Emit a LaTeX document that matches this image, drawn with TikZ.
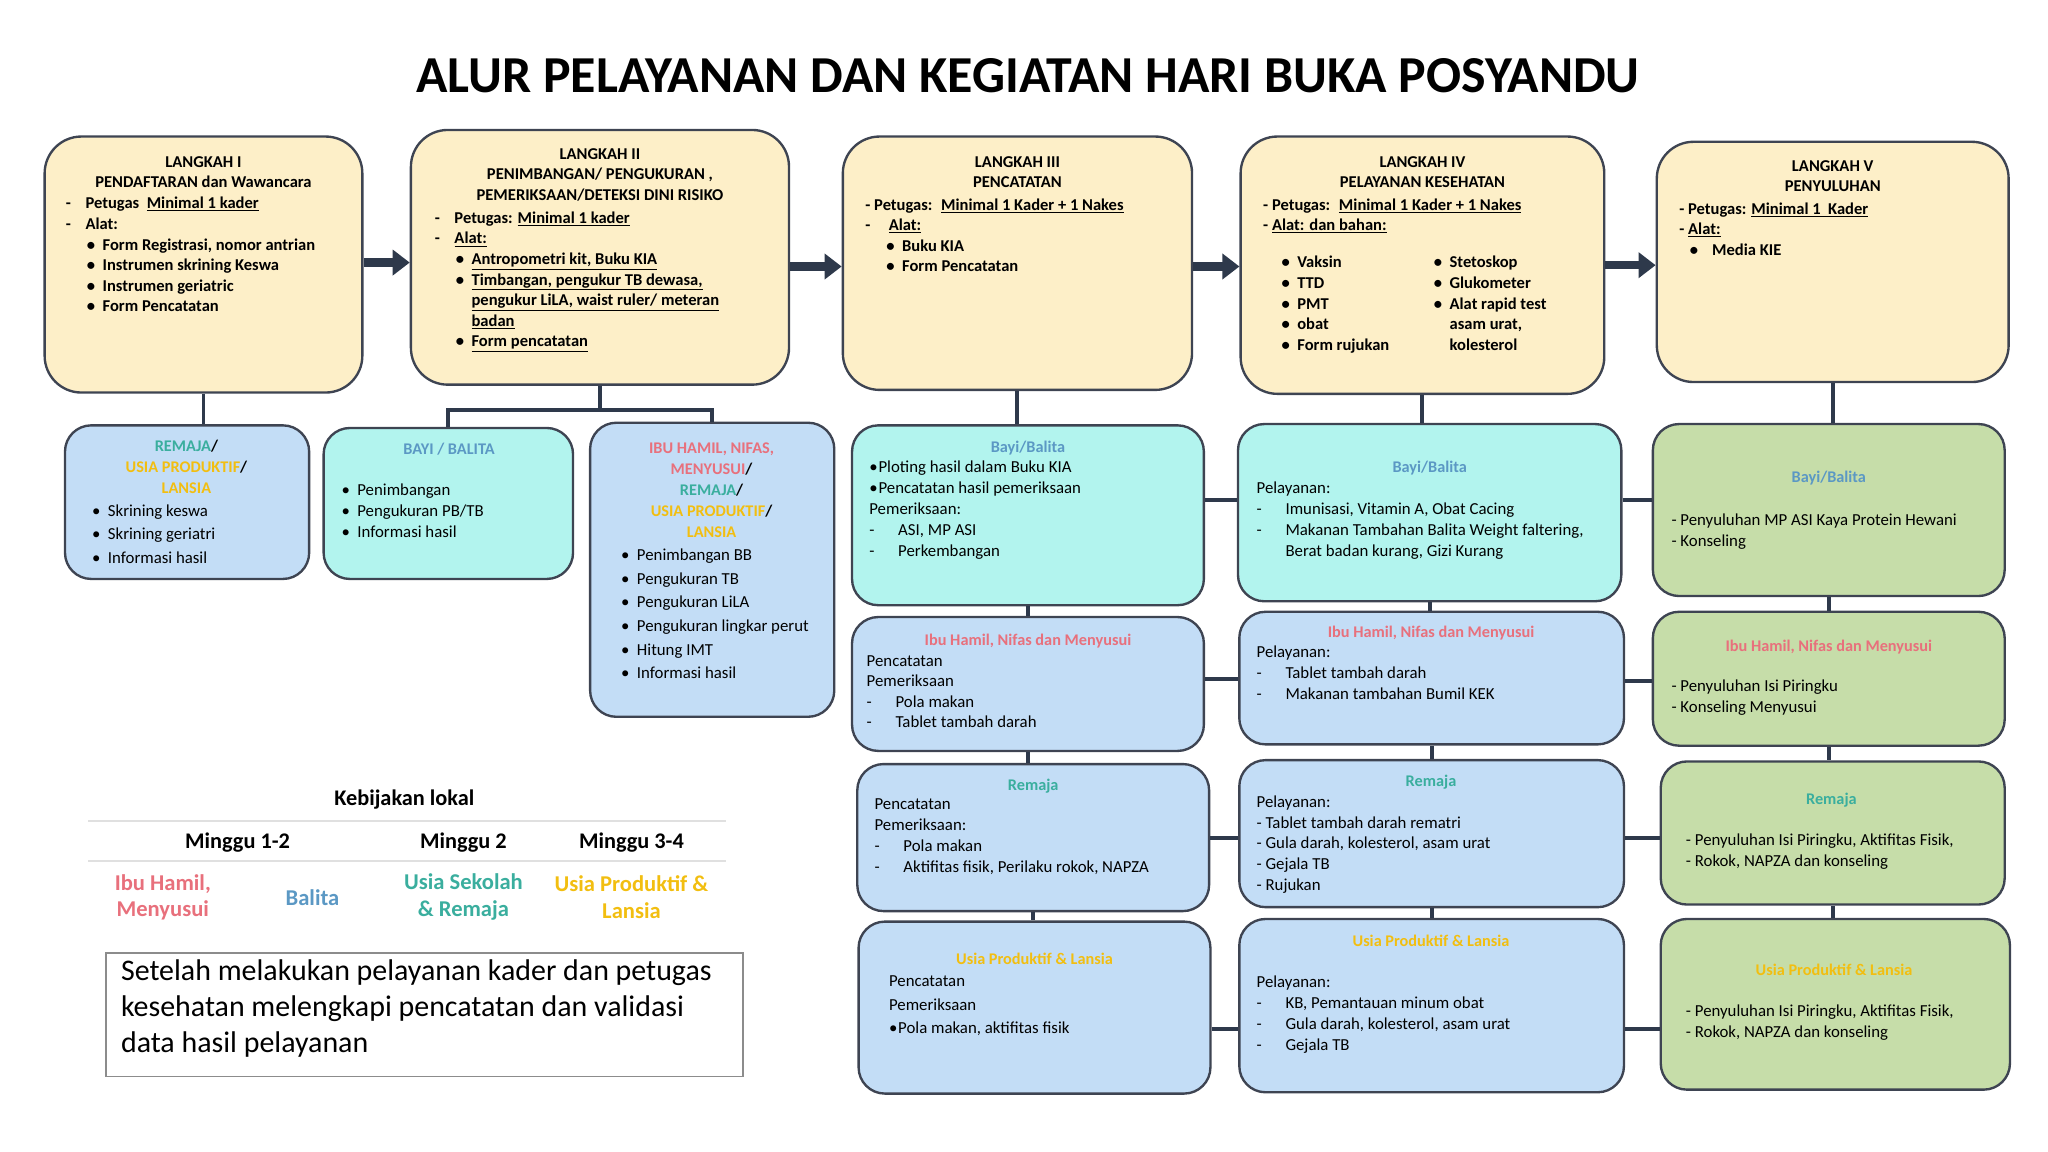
\documentclass[tikz,border=0pt]{standalone}
\usepackage{fontspec}
\setmainfont{Carlito}
\usetikzlibrary{arrows.meta}
\definecolor{ycol}{HTML}{FDEFC8}
\definecolor{bcol}{HTML}{C3DDF6}
\definecolor{ccol}{HTML}{B2F4EE}
\definecolor{gcol}{HTML}{C6DDA9}
\definecolor{bordc}{HTML}{3E4452}
\definecolor{connc}{HTML}{2E394B}
\definecolor{cteal}{HTML}{3AAE9E}
\definecolor{cyel}{HTML}{F2BE10}
\definecolor{cpink}{HTML}{E8707C}
\definecolor{csteel}{HTML}{5B98C4}
\newcommand\dd{\makebox[15pt][l]{-}}
\newcommand\ddd{\makebox[22pt][l]{-}}
\newcommand\bb{\makebox[12pt][l]{\textbullet}}
\newcommand\ul[1]{\underline{#1}}
\begin{document}
\begin{tikzpicture}[x=1pt,y=-1pt,
  box/.style={draw=bordc, line width=1.8pt, rounded corners=20pt, inner sep=0pt},
  tb/.style={box, fill=ycol, rounded corners=28pt},
  bx/.style={box, fill=bcol},
  cx/.style={box, fill=ccol},
  gx/.style={box, fill=gcol},
  txt/.style={anchor=north west, align=left, inner sep=0pt, font=\fontsize{12.6}{15.7}\selectfont\bfseries},
  ttl/.style={anchor=north, align=center, inner sep=0pt, font=\fontsize{12.6}{15.5}\selectfont\bfseries},
  lt/.style={anchor=north west, align=left, inner sep=0pt, font=\fontsize{12.8}{16}\selectfont},
  st/.style={anchor=north, align=center, inner sep=0pt, font=\fontsize{12.4}{16}\selectfont\bfseries},
  conn/.style={draw=connc, line width=3pt},
  big/.style={draw=connc, line width=6.5pt, -{Triangle[width=19pt,length=13pt]}}]
\useasboundingbox (0,0) rectangle (1560,877.5);
\node[inner sep=0pt, font=\fontsize{39.5}{44}\selectfont\bfseries] (title) at (783,58) {ALUR PELAYANAN DAN KEGIATAN HARI BUKA POSYANDU};

% top boxes
\node[tb, minimum width=242pt, minimum height=195pt] (b1) at (155,201.5) {};
\node[tb, minimum width=288pt, minimum height=194pt] (b2) at (457,196) {};
\node[tb, minimum width=266pt, minimum height=193pt] (b3) at (775,200.5) {};
\node[tb, minimum width=277pt, minimum height=196pt] (b4) at (1083.5,202) {};
\node[tb, minimum width=268pt, minimum height=183pt] (b5) at (1396,199.5) {};

\node[ttl] (t1h) at (155,119) {LANGKAH I\\PENDAFTARAN dan Wawancara};
\node[txt] (t1) at (50,150) {\dd Petugas \ \ul{Minimal 1 kader}\\ \dd Alat:\\
 \hspace*{16pt}\bb Form Registrasi, nomor antrian\\ \hspace*{16pt}\bb Instrumen skrining Keswa\\
 \hspace*{16pt}\bb Instrumen geriatric\\ \hspace*{16pt}\bb Form Pencatatan};

\node[ttl] (t2h) at (457,113) {LANGKAH II\\PENIMBANGAN/ PENGUKURAN ,\\PEMERIKSAAN/DETEKSI DINI RISIKO};
\node[txt] (t2) at (331,161) {\dd Petugas: \ul{Minimal 1 kader}\\ \dd \ul{Alat:}\\
 \hspace*{16pt}\bb \ul{Antropometri kit, Buku KIA}\\
 \hspace*{16pt}\bb \ul{Timbangan, pengukur TB dewasa,}\\
 \hspace*{28pt}\ul{pengukur LiLA, waist ruler/ meteran}\\
 \hspace*{28pt}\ul{badan}\\
 \hspace*{16pt}\bb \ul{Form pencatatan}};

\node[ttl] (t3h) at (775,119) {LANGKAH III\\PENCATATAN};
\node[txt] (t3) at (659,151) {- Petugas: \ \ul{Minimal 1 Kader + 1 Nakes}\\
 \dd \ \ul{Alat:}\\ \hspace*{16pt}\bb Buku KIA\\ \hspace*{16pt}\bb Form Pencatatan};

\node[ttl] (t4h) at (1083.5,119) {LANGKAH IV\\PELAYANAN KESEHATAN};
\node[txt] (t4) at (962,151) {- Petugas: \ \ul{Minimal 1 Kader + 1 Nakes}\\ - \ul{Alat: dan bahan:}};
\node[txt] (t4l) at (976,195) {\bb Vaksin\\ \bb TTD\\ \bb PMT\\ \bb obat\\ \bb Form rujukan};
\node[txt] (t4r) at (1092,195) {\bb Stetoskop\\ \bb Glukometer\\ \bb Alat rapid test\\ \hspace*{12pt}asam urat,\\ \hspace*{12pt}kolesterol};

\node[ttl] (t5h) at (1396,122) {LANGKAH V\\PENYULUHAN};
\node[txt] (t5) at (1279,154) {- Petugas: \ul{Minimal 1 \ Kader}\\ - \ul{Alat:}\\ \hspace*{8pt}\makebox[17pt][l]{\textbullet}Media KIE};

% big arrows
\draw[big] (b1.east |- 0,200) -- (b2.west |- 0,200);
\draw[big] (b2.east |- 0,203) -- (b3.west |- 0,203);
\draw[big] (b3.east |- 0,203) -- (b4.west |- 0,203);
\draw[big] (b4.east |- 0,202) -- (b5.west |- 0,202);

% row 2 left
\node[bx, minimum width=186pt, minimum height=117pt] (r1) at (142.5,382.5) {};
\node[cx, minimum width=190pt, minimum height=115pt] (r2) at (341.5,383.5) {};
\node[bx, minimum width=186pt, minimum height=224pt] (r3) at (542.5,434) {};
\node[st] (r1h) at (142,335) {\textcolor{cteal}{REMAJA}/\\\textcolor{cyel}{USIA PRODUKTIF}/\\\textcolor{cyel}{LANSIA}};
\node[lt, font=\fontsize{12.8}{18}\selectfont] (r1t) at (70,384) {\bb Skrining keswa\\ \bb Skrining geriatri\\ \bb Informasi hasil};
\node[st, text=csteel] (r2h) at (342,337) {BAYI / BALITA};
\node[lt] (r2t) at (260,368) {\bb Penimbangan\\ \bb Pengukuran PB/TB\\ \bb Informasi hasil};
\node[st] (r3h) at (542,337) {\textcolor{cpink}{IBU HAMIL, NIFAS,}\\\textcolor{cpink}{MENYUSUI}/\\\textcolor{cteal}{REMAJA}/\\\textcolor{cyel}{USIA PRODUKTIF}/\\\textcolor{cyel}{LANSIA}};
\node[lt, font=\fontsize{12.8}{18}\selectfont] (r3t) at (473,418) {\bb Penimbangan BB\\ \bb Pengukuran TB\\ \bb Pengukuran LiLA\\ \bb Pengukuran lingkar perut\\ \bb Hitung IMT\\ \bb Informasi hasil};

\draw[conn] (b1.south) -- (b1.south |- r1.north);
\coordinate (j2) at (457,312);
\draw[conn] (b2.south) -- (j2);
\draw[conn] (r2.north) |- (j2) -| (r3.north);

% column III
\node[cx, minimum width=268pt, minimum height=137pt] (c3a) at (783,392.5) {};
\node[bx, minimum width=268pt, minimum height=102pt] (c3b) at (783,521) {};
\node[bx, minimum width=268pt, minimum height=112pt] (c3c) at (787,638) {};
\node[bx, minimum width=268pt, minimum height=131pt] (c3d) at (788,767.5) {};
\node[st, text=csteel] (c3ah) at (783,336) {Bayi/Balita};
\node[lt] (c3at) at (662,351) {\makebox[7pt][l]{\textbullet}Ploting hasil dalam Buku KIA\\ \makebox[7pt][l]{\textbullet}Pencatatan hasil pemeriksaan\\ Pemeriksaan:\\ \ddd ASI, MP ASI\\ \ddd Perkembangan};
\node[st, text=cpink] (c3bh) at (783,483) {Ibu Hamil, Nifas dan Menyusui};
\node[lt, font=\fontsize{12.8}{15.7}\selectfont] (c3bt) at (660,499) {Pencatatan\\ Pemeriksaan\\ \ddd Pola makan\\ \ddd Tablet tambah darah};
\node[st, text=cteal] (c3ch) at (787,593) {Remaja};
\node[lt] (c3ct) at (666,608) {Pencatatan\\ Pemeriksaan:\\ \ddd Pola makan\\ \ddd Aktifitas fisik, Perilaku rokok, NAPZA};
\node[st, text=cyel] (c3dh) at (788,726) {Usia Produktif \& Lansia};
\node[lt, font=\fontsize{12.8}{18}\selectfont] (c3dt) at (677,743) {Pencatatan\\ Pemeriksaan\\ \makebox[7pt][l]{\textbullet}Pola makan, aktifitas fisik};
\draw[conn] (b3.south) -- (b3.south |- c3a.north);
\draw[conn] (c3a.south) -- (c3a.south |- c3b.north);
\draw[conn] (c3b.south) -- (c3b.south |- c3c.north);
\draw[conn] (c3c.south) -- (c3c.south |- c3d.north);

% column IV
\node[cx, minimum width=292pt, minimum height=135pt] (c4a) at (1089,390.5) {};
\node[bx, minimum width=293pt, minimum height=101pt] (c4b) at (1090.5,516.5) {};
\node[bx, minimum width=293pt, minimum height=112pt] (c4c) at (1090.5,635) {};
\node[bx, minimum width=293pt, minimum height=132pt] (c4d) at (1090.5,766) {};
\node[st, text=csteel] (c4ah) at (1089,351) {Bayi/Balita};
\node[lt] (c4at) at (957,367) {Pelayanan:\\ \ddd Imunisasi, Vitamin A, Obat Cacing\\ \ddd Makanan Tambahan Balita Weight faltering,\\ \hspace*{22pt}Berat badan kurang, Gizi Kurang};
\node[st, text=cpink] (c4bh) at (1090,477) {Ibu Hamil, Nifas dan Menyusui};
\node[lt] (c4bt) at (957,492) {Pelayanan:\\ \ddd Tablet tambah darah\\ \ddd Makanan tambahan Bumil KEK};
\node[st, text=cteal] (c4ch) at (1090,590) {Remaja};
\node[lt, font=\fontsize{12.8}{15.8}\selectfont] (c4ct) at (957,606) {Pelayanan:\\ - Tablet tambah darah rematri\\ - Gula darah, kolesterol, asam urat\\ - Gejala TB\\ - Rujukan};
\node[st, text=cyel] (c4dh) at (1090,712) {Usia Produktif \& Lansia};
\node[lt] (c4dt) at (957,743) {Pelayanan:\\ \ddd KB, Pemantauan minum obat\\ \ddd Gula darah, kolesterol, asam urat\\ \ddd Gejala TB};
\draw[conn] (b4.south) -- (b4.south |- c4a.north);
\draw[conn] (c4a.south) -- (c4a.south |- c4b.north);
\draw[conn] (c4b.south) -- (c4b.south |- c4c.north);
\draw[conn] (c4c.south) -- (c4c.south |- c4d.north);

% column V
\node[gx, minimum width=268pt, minimum height=131pt] (c5a) at (1393,388.5) {};
\node[gx, minimum width=268pt, minimum height=102pt] (c5b) at (1393,517) {};
\node[gx, minimum width=262pt, minimum height=109pt] (c5c) at (1396,634.5) {};
\node[gx, minimum width=266pt, minimum height=130pt] (c5d) at (1398,765) {};
\node[st, text=csteel] (c5ah) at (1393,359) {Bayi/Balita};
\node[lt] (c5at) at (1273,391) {- Penyuluhan MP ASI Kaya Protein Hewani\\ - Konseling};
\node[st, text=cpink] (c5bh) at (1393,487) {Ibu Hamil, Nifas dan Menyusui};
\node[lt] (c5bt) at (1273,518) {- Penyuluhan Isi Piringku\\ - Konseling Menyusui};
\node[st, text=cteal] (c5ch) at (1395,604) {Remaja};
\node[lt] (c5ct) at (1284,635) {- Penyuluhan Isi Piringku, Aktifitas Fisik,\\ - Rokok, NAPZA dan konseling};
\node[st, text=cyel] (c5dh) at (1397,734) {Usia Produktif \& Lansia};
\node[lt] (c5dt) at (1284,765) {- Penyuluhan Isi Piringku, Aktifitas Fisik,\\ - Rokok, NAPZA dan konseling};
\draw[conn] (b5.south) -- (b5.south |- c5a.north);
\draw[conn] (c5a.south) -- (c5a.south |- c5b.north);
\draw[conn] (c5b.south) -- (c5b.south |- c5c.north);
\draw[conn] (c5c.south) -- (c5c.south |- c5d.north);

% horizontal links
\draw[conn] (c3a.east |- 0,381) -- (c4a.west |- 0,381);
\draw[conn] (c3b.east |- 0,517) -- (c4b.west |- 0,517);
\draw[conn] (c3c.east |- 0,638) -- (c4c.west |- 0,638);
\draw[conn] (c3d.east |- 0,784) -- (c4d.west |- 0,784);
\draw[conn] (c4a.east |- 0,381) -- (c5a.west |- 0,381);
\draw[conn] (c4b.east |- 0,519) -- (c5b.west |- 0,519);
\draw[conn] (c4c.east |- 0,638) -- (c5c.west |- 0,638);
\draw[conn] (c4d.east |- 0,784) -- (c5d.west |- 0,784);

% table
\node[font=\fontsize{17}{20}\selectfont\bfseries, inner sep=0pt] (kl) at (308,609) {Kebijakan lokal};
\coordinate (l1a) at (67,625); \coordinate (l1b) at (553,625);
\coordinate (l2a) at (67,656); \coordinate (l2b) at (553,656);
\draw[black!12, line width=1.5pt] (l1a) -- (l1b);
\draw[black!12, line width=1.5pt] (l2a) -- (l2b);
\node[font=\fontsize{17}{20}\selectfont\bfseries, inner sep=0pt] (m1) at (181,642) {Minggu 1-2};
\node[font=\fontsize{17}{20}\selectfont\bfseries, inner sep=0pt] (m2) at (353,642) {Minggu 2};
\node[font=\fontsize{17}{20}\selectfont\bfseries, inner sep=0pt] (m3) at (481,642) {Minggu 3-4};
\tikzset{tv/.style={align=center, inner sep=0pt, font=\fontsize{17.2}{20.5}\selectfont\bfseries}}
\node[tv, text=cpink] (v1) at (124,683.5) {Ibu Hamil,\\Menyusui};
\node[tv, text=csteel] (v2) at (238,684) {Balita};
\node[tv, text=cteal] (v3) at (353,683.5) {Usia Sekolah\\\& Remaja};
\node[tv, text=cyel] (v4) at (481,683.5) {Usia Produktif \&\\Lansia};

\node[draw=black!45, line width=1.3pt, minimum width=485pt, minimum height=94pt, inner sep=0pt] (foot) at (323.5,773) {};
\node[anchor=north west, align=left, inner sep=0pt, font=\fontsize{22.8}{27.5}\selectfont] (foott) at (92,731) {Setelah melakukan pelayanan kader dan petugas\\kesehatan melengkapi pencatatan dan validasi\\data hasil pelayanan};
\end{tikzpicture}
\end{document}
